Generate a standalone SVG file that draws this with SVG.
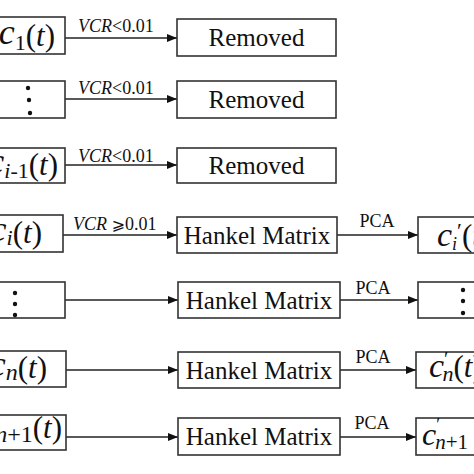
<svg xmlns="http://www.w3.org/2000/svg" width="474" height="474" viewBox="0 0 474 474" font-family="'Liberation Serif', 'Times New Roman', serif">
<defs>
<marker id="ah" markerWidth="10" markerHeight="8" refX="10" refY="4" orient="auto" markerUnits="userSpaceOnUse">
<path d="M0,0 L10,4 L0,8 Z" fill="#111"/>
</marker>
<style>
.box{fill:#fff;stroke:#333;stroke-width:1.6}
.ln{stroke:#222;stroke-width:1.4;fill:none;marker-end:url(#ah)}
text{font-family:'Liberation Serif','Times New Roman',serif;fill:#111}
.lbl{font-size:25px}
.sm{font-size:18px}
.it{font-style:italic}
.dot{fill:#111}
</style>
</defs>
<rect width="474" height="474" fill="#fff"/>
<g id="connectors">
<line class="ln" x1="65" y1="38" x2="177" y2="38"/>
<line class="ln" x1="65" y1="99" x2="177" y2="99"/>
<line class="ln" x1="65" y1="165" x2="177" y2="165"/>
<line class="ln" x1="63" y1="235" x2="177" y2="235"/>
<line class="ln" x1="65" y1="300" x2="178" y2="300"/>
<line class="ln" x1="66" y1="370" x2="178" y2="370"/>
<line class="ln" x1="66" y1="437" x2="178" y2="437"/>
<line class="ln" x1="337" y1="235" x2="418" y2="235"/>
<line class="ln" x1="340" y1="300" x2="418" y2="300"/>
<line class="ln" x1="340" y1="370" x2="416" y2="370"/>
<line class="ln" x1="340" y1="437" x2="416" y2="437"/>
<text class="sm" x="78" y="32"><tspan class="it">VCR</tspan>&lt;0.01</text>
<text class="sm" x="78" y="94"><tspan class="it">VCR</tspan>&lt;0.01</text>
<text class="sm" x="78" y="162"><tspan class="it">VCR</tspan>&lt;0.01</text>
<text class="sm" x="73" y="230"><tspan class="it">VCR </tspan><tspan style="font-family:'DejaVu Serif','DejaVu Sans',serif" font-size="16">⩾</tspan>0.01</text>
<text class="sm" x="377" y="227" text-anchor="middle">PCA</text>
<text class="sm" x="373" y="294" text-anchor="middle">PCA</text>
<text class="sm" x="373" y="363" text-anchor="middle">PCA</text>
<text class="sm" x="372" y="429" text-anchor="middle">PCA</text>
</g>
<g id="c1">
<rect class="box" x="-5" y="17" width="70" height="37"/>
<text x="55" y="44" text-anchor="end"><tspan class="it" font-size="36">c</tspan><tspan font-size="22" dy="6">1</tspan><tspan font-size="31" dy="-4">(</tspan><tspan class="it" font-size="31">t</tspan><tspan font-size="31">)</tspan></text>
</g>
<g id="dots1">
<rect class="box" x="-5" y="81" width="70" height="37"/>
<circle class="dot" cx="28" cy="88" r="2.2"/>
<circle class="dot" cx="29" cy="100" r="2.2"/>
<circle class="dot" cx="30" cy="113" r="2.2"/>
</g>
<g id="ci-1">
<rect class="box" x="-5" y="148" width="70" height="35"/>
<text x="58" y="173" text-anchor="end"><tspan class="it" font-size="36">c</tspan><tspan class="it" font-size="22" dy="5">i</tspan><tspan font-size="22">-1</tspan><tspan font-size="31" dy="-3">(</tspan><tspan class="it" font-size="31">t</tspan><tspan font-size="31">)</tspan></text>
</g>
<g id="ci">
<rect class="box" x="-5" y="215" width="68" height="37"/>
<text x="42" y="241" text-anchor="end"><tspan class="it" font-size="36">c</tspan><tspan class="it" font-size="22" dy="4">i</tspan><tspan font-size="31" dy="-2">(</tspan><tspan class="it" font-size="31">t</tspan><tspan font-size="31">)</tspan></text>
</g>
<g id="dots2">
<rect class="box" x="-5" y="282" width="70" height="36"/>
<circle class="dot" cx="15" cy="293" r="2.2"/>
<circle class="dot" cx="15" cy="304" r="2.2"/>
<circle class="dot" cx="15" cy="315" r="2.2"/>
</g>
<g id="cn">
<rect class="box" x="-5" y="351" width="71" height="36"/>
<text x="47" y="376" text-anchor="end"><tspan class="it" font-size="36">c</tspan><tspan class="it" font-size="24" dy="4">n</tspan><tspan font-size="31" dy="-2">(</tspan><tspan class="it" font-size="31">t</tspan><tspan font-size="31">)</tspan></text>
</g>
<g id="cn1">
<rect class="box" x="-5" y="415" width="71" height="35"/>
<text x="62" y="438" text-anchor="end"><tspan class="it" font-size="36">c</tspan><tspan class="it" font-size="24" dy="4">n</tspan><tspan font-size="24">+1</tspan><tspan font-size="31" dy="-4">(</tspan><tspan class="it" font-size="31">t</tspan><tspan font-size="31">)</tspan></text>
</g>
<g id="removed1">
<rect class="box" x="177" y="19" width="159" height="37"/>
<text class="lbl" x="256.5" y="46" text-anchor="middle">Removed</text>
</g>
<g id="removed2">
<rect class="box" x="177" y="81" width="159" height="37"/>
<text class="lbl" x="256.5" y="108" text-anchor="middle">Removed</text>
</g>
<g id="removed3">
<rect class="box" x="177" y="148" width="159" height="35"/>
<text class="lbl" x="256.5" y="174" text-anchor="middle">Removed</text>
</g>
<g id="hankel1">
<rect class="box" x="177" y="217" width="160" height="36"/>
<text class="lbl" x="257" y="244" text-anchor="middle">Hankel Matrix</text>
</g>
<g id="hankel2">
<rect class="box" x="178" y="282" width="162" height="36"/>
<text class="lbl" x="259" y="309" text-anchor="middle">Hankel Matrix</text>
</g>
<g id="hankel3">
<rect class="box" x="178" y="352" width="162" height="36"/>
<text class="lbl" x="259" y="379" text-anchor="middle">Hankel Matrix</text>
</g>
<g id="hankel4">
<rect class="box" x="178" y="418" width="162" height="37"/>
<text class="lbl" x="259" y="445" text-anchor="middle">Hankel Matrix</text>
</g>
<g id="ci-out">
<rect class="box" x="418" y="217" width="70" height="36"/>
<text x="437" y="246"><tspan class="it" font-size="34">c</tspan><tspan class="it" font-size="18" dy="4">i</tspan><tspan font-size="22" dy="-12">′</tspan><tspan font-size="31" dy="8">(</tspan><tspan class="it" font-size="31">t</tspan><tspan font-size="31">)</tspan></text>
</g>
<g id="dots-out">
<rect class="box" x="418" y="282" width="70" height="36"/>
<circle class="dot" cx="463" cy="290" r="2.2"/>
<circle class="dot" cx="463" cy="301" r="2.2"/>
<circle class="dot" cx="463" cy="313" r="2.2"/>
</g>
<g id="cn-out">
<rect class="box" x="416" y="352" width="70" height="36"/>
<text x="429" y="377"><tspan class="it" font-size="34">c</tspan><tspan font-size="20" dy="-11">′</tspan><tspan class="it" font-size="22" dx="-6" dy="15">n</tspan><tspan font-size="31" dy="-4">(</tspan><tspan class="it" font-size="31">t</tspan><tspan font-size="31">)</tspan></text>
</g>
<g id="cn1-out">
<rect class="box" x="416" y="418" width="70" height="37"/>
<text x="422" y="445"><tspan class="it" font-size="32">c</tspan><tspan font-size="18" dy="-14">′</tspan><tspan class="it" font-size="21" dx="-5" dy="18">n</tspan><tspan font-size="21">+1</tspan></text>
</g>
</svg>
